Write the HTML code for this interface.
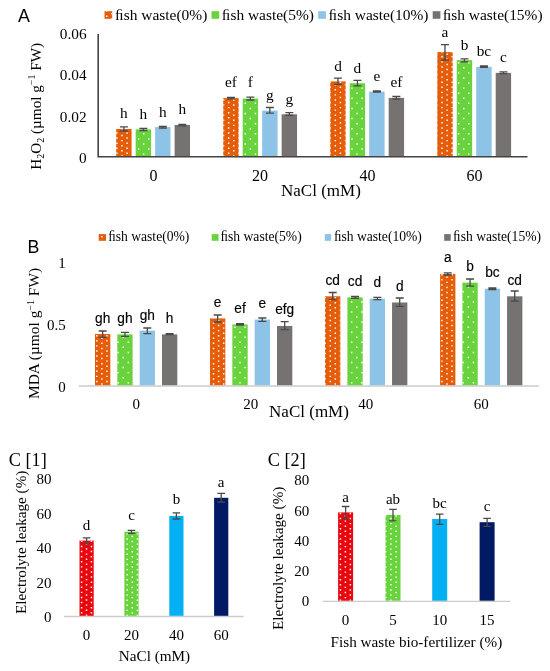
<!DOCTYPE html>
<html><head><meta charset="utf-8"><style>
html,body{margin:0;padding:0;background:#fff;}
svg{display:block;will-change:transform;}
text{fill:#000;}
</style></head><body>
<svg width="550" height="671" viewBox="0 0 550 671">
<defs></defs>
<rect width="550" height="671" fill="#fff"/>
<text x="18" y="21.5" font-family="'Liberation Sans', sans-serif" font-size="17.8" text-anchor="start" >A</text>
<rect x="104.5" y="11.2" width="7.7" height="7.6" fill="#E55C09"/>
<path fill="#FFFFFF" d="M106.02 11.2h1.45v0.6h-1.45zM106.02 15.43h1.45v1.45h-1.45zM111.1 12.89h1.1v1.45h-1.1zM111.1 17.97h1.1v0.83h-1.1z"/>
<text x="115.1" y="19.7" font-family="'Liberation Serif', serif" font-size="15.45" text-anchor="start" >ﬁsh waste(0%)</text>
<rect x="211.5" y="11.2" width="7.7" height="7.6" fill="#69D33E"/>
<text x="221.8" y="19.7" font-family="'Liberation Serif', serif" font-size="15.45" text-anchor="start" >ﬁsh waste(5%)</text>
<rect x="318.2" y="11.2" width="7.7" height="7.6" fill="#8DC3E7"/>
<text x="328.6" y="19.7" font-family="'Liberation Serif', serif" font-size="15.45" text-anchor="start" >ﬁsh waste(10%)</text>
<rect x="432.7" y="11.2" width="7.7" height="7.6" fill="#777272"/>
<text x="442.7" y="19.7" font-family="'Liberation Serif', serif" font-size="15.45" text-anchor="start" >ﬁsh waste(15%)</text>
<path d="M98.2 34V157.5M97.4 156.7H527.5" stroke="#434343" stroke-width="1.6" fill="none"/>
<text x="86.6" y="38.8" font-family="'Liberation Serif', serif" font-size="15.3" text-anchor="end" >0.06</text>
<text x="86.6" y="80.3" font-family="'Liberation Serif', serif" font-size="15.3" text-anchor="end" >0.04</text>
<text x="86.6" y="122" font-family="'Liberation Serif', serif" font-size="15.3" text-anchor="end" >0.02</text>
<text x="86.6" y="163.1" font-family="'Liberation Serif', serif" font-size="15.3" text-anchor="end" >0</text>
<text transform="translate(40.8 106.3) rotate(-90)" font-family="'Liberation Serif', serif" font-size="15.2" text-anchor="middle">H<tspan font-size="10" dy="3">2</tspan><tspan dy="-3">O</tspan><tspan font-size="10" dy="3">2</tspan><tspan dy="-3"> (µmol g</tspan><tspan font-size="10" dy="-5.5">−1</tspan><tspan dy="5.5"> FW)</tspan></text>
<rect x="116.2" y="129" width="15.4" height="27" fill="#E55C09"/>
<path fill="#FFFFFF" d="M116.2 132.28h1.42v1.45h-1.42zM116.2 137.36h1.42v1.45h-1.42zM116.2 142.44h1.42v1.45h-1.42zM116.2 147.52h1.42v1.45h-1.42zM116.2 152.59h1.42v1.45h-1.42zM126.34 132.28h1.45v1.45h-1.45zM126.34 137.36h1.45v1.45h-1.45zM126.34 142.44h1.45v1.45h-1.45zM126.34 147.52h1.45v1.45h-1.45zM126.34 152.59h1.45v1.45h-1.45zM121.26 129.73h1.45v1.45h-1.45zM121.26 134.81h1.45v1.45h-1.45zM121.26 139.9h1.45v1.45h-1.45zM121.26 144.97h1.45v1.45h-1.45zM121.26 150.06h1.45v1.45h-1.45zM121.26 155.13h1.45v0.87h-1.45zM131.42 129.73h0.18v1.45h-0.18zM131.42 134.81h0.18v1.45h-0.18zM131.42 139.9h0.18v1.45h-0.18zM131.42 144.97h0.18v1.45h-0.18zM131.42 150.06h0.18v1.45h-0.18zM131.42 155.13h0.18v0.87h-0.18z"/>
<path d="M119.9 126.9H127.9M123.9 126.9V131M119.9 131H127.9" stroke="#4A4A4A" stroke-width="1.3" fill="none"/>
<text x="123.9" y="118.2" font-family="'Liberation Serif', serif" font-size="15.3" text-anchor="middle" >h</text>
<rect x="135.67" y="129.4" width="15.4" height="26.6" fill="#69D33E"/>
<path fill="#FFFFFF" d="M137.88 138.18h1.45v1.45h-1.45zM137.88 148.34h1.45v1.45h-1.45zM148.03 138.18h1.45v1.45h-1.45zM148.03 148.34h1.45v1.45h-1.45zM142.96 133.1h1.45v1.45h-1.45zM142.96 143.26h1.45v1.45h-1.45zM142.96 153.42h1.45v1.45h-1.45z"/>
<path d="M139.37 128.3H147.37M143.37 128.3V130.5M139.37 130.5H147.37" stroke="#4A4A4A" stroke-width="1.3" fill="none"/>
<text x="143.37" y="118.7" font-family="'Liberation Serif', serif" font-size="15.3" text-anchor="middle" >h</text>
<rect x="155.14" y="127.1" width="15.4" height="28.9" fill="#8DC3E7"/>
<path d="M158.84 126.3H166.84M162.84 126.3V128M158.84 128H166.84" stroke="#4A4A4A" stroke-width="1.3" fill="none"/>
<text x="162.84" y="116.6" font-family="'Liberation Serif', serif" font-size="15.3" text-anchor="middle" >h</text>
<rect x="174.61" y="125" width="15.4" height="31" fill="#777272"/>
<path d="M178.31 124.3H186.31M182.31 124.3V125.8M178.31 125.8H186.31" stroke="#4A4A4A" stroke-width="1.3" fill="none"/>
<text x="182.31" y="114.3" font-family="'Liberation Serif', serif" font-size="15.3" text-anchor="middle" >h</text>
<rect x="223.23" y="98.1" width="15.4" height="57.9" fill="#E55C09"/>
<path fill="#FFFFFF" d="M227.94 101.8h1.45v1.45h-1.45zM227.94 106.88h1.45v1.45h-1.45zM227.94 111.96h1.45v1.45h-1.45zM227.94 117.04h1.45v1.45h-1.45zM227.94 122.12h1.45v1.45h-1.45zM227.94 127.2h1.45v1.45h-1.45zM227.94 132.28h1.45v1.45h-1.45zM227.94 137.36h1.45v1.45h-1.45zM227.94 142.44h1.45v1.45h-1.45zM227.94 147.52h1.45v1.45h-1.45zM227.94 152.59h1.45v1.45h-1.45zM238.09 101.8h0.54v1.45h-0.54zM238.09 106.88h0.54v1.45h-0.54zM238.09 111.96h0.54v1.45h-0.54zM238.09 117.04h0.54v1.45h-0.54zM238.09 122.12h0.54v1.45h-0.54zM238.09 127.2h0.54v1.45h-0.54zM238.09 132.28h0.54v1.45h-0.54zM238.09 137.36h0.54v1.45h-0.54zM238.09 142.44h0.54v1.45h-0.54zM238.09 147.52h0.54v1.45h-0.54zM238.09 152.59h0.54v1.45h-0.54zM223.23 99.25h1.07v1.45h-1.07zM223.23 104.33h1.07v1.45h-1.07zM223.23 109.41h1.07v1.45h-1.07zM223.23 114.5h1.07v1.45h-1.07zM223.23 119.58h1.07v1.45h-1.07zM223.23 124.66h1.07v1.45h-1.07zM223.23 129.73h1.07v1.45h-1.07zM223.23 134.81h1.07v1.45h-1.07zM223.23 139.9h1.07v1.45h-1.07zM223.23 144.97h1.07v1.45h-1.07zM223.23 150.06h1.07v1.45h-1.07zM223.23 155.13h1.07v0.87h-1.07zM233.02 99.25h1.45v1.45h-1.45zM233.02 104.33h1.45v1.45h-1.45zM233.02 109.41h1.45v1.45h-1.45zM233.02 114.5h1.45v1.45h-1.45zM233.02 119.58h1.45v1.45h-1.45zM233.02 124.66h1.45v1.45h-1.45zM233.02 129.73h1.45v1.45h-1.45zM233.02 134.81h1.45v1.45h-1.45zM233.02 139.9h1.45v1.45h-1.45zM233.02 144.97h1.45v1.45h-1.45zM233.02 150.06h1.45v1.45h-1.45zM233.02 155.13h1.45v0.87h-1.45z"/>
<path d="M226.93 97.4H234.93M230.93 97.4V98.8M226.93 98.8H234.93" stroke="#4A4A4A" stroke-width="1.3" fill="none"/>
<text x="230.93" y="87.2" font-family="'Liberation Serif', serif" font-size="15.3" text-anchor="middle" >ef</text>
<rect x="242.7" y="98.6" width="15.4" height="57.4" fill="#69D33E"/>
<path fill="#FFFFFF" d="M249.64 98.6h1.45v0.39h-1.45zM249.64 107.7h1.45v1.45h-1.45zM249.64 117.86h1.45v1.45h-1.45zM249.64 128.02h1.45v1.45h-1.45zM249.64 138.18h1.45v1.45h-1.45zM249.64 148.34h1.45v1.45h-1.45zM244.56 102.62h1.45v1.45h-1.45zM244.56 112.78h1.45v1.45h-1.45zM244.56 122.94h1.45v1.45h-1.45zM244.56 133.1h1.45v1.45h-1.45zM244.56 143.26h1.45v1.45h-1.45zM244.56 153.42h1.45v1.45h-1.45zM254.72 102.62h1.45v1.45h-1.45zM254.72 112.78h1.45v1.45h-1.45zM254.72 122.94h1.45v1.45h-1.45zM254.72 133.1h1.45v1.45h-1.45zM254.72 143.26h1.45v1.45h-1.45zM254.72 153.42h1.45v1.45h-1.45z"/>
<path d="M246.4 97.2H254.4M250.4 97.2V100M246.4 100H254.4" stroke="#4A4A4A" stroke-width="1.3" fill="none"/>
<text x="250.4" y="87.3" font-family="'Liberation Serif', serif" font-size="15.3" text-anchor="middle" >f</text>
<rect x="262.17" y="110.6" width="15.4" height="45.4" fill="#8DC3E7"/>
<path d="M265.87 107.5H273.87M269.87 107.5V113.2M265.87 113.2H273.87" stroke="#4A4A4A" stroke-width="1.3" fill="none"/>
<text x="269.87" y="100.1" font-family="'Liberation Serif', serif" font-size="15.3" text-anchor="middle" >g</text>
<rect x="281.64" y="114.3" width="15.4" height="41.7" fill="#777272"/>
<path d="M285.34 112.7H293.34M289.34 112.7V115.3M285.34 115.3H293.34" stroke="#4A4A4A" stroke-width="1.3" fill="none"/>
<text x="289.34" y="103.8" font-family="'Liberation Serif', serif" font-size="15.3" text-anchor="middle" >g</text>
<rect x="330.26" y="81.4" width="15.4" height="74.6" fill="#E55C09"/>
<path fill="#FFFFFF" d="M330.26 81.48h0.73v1.45h-0.73zM330.26 86.56h0.73v1.45h-0.73zM330.26 91.64h0.73v1.45h-0.73zM330.26 96.72h0.73v1.45h-0.73zM330.26 101.8h0.73v1.45h-0.73zM330.26 106.88h0.73v1.45h-0.73zM330.26 111.96h0.73v1.45h-0.73zM330.26 117.04h0.73v1.45h-0.73zM330.26 122.12h0.73v1.45h-0.73zM330.26 127.2h0.73v1.45h-0.73zM330.26 132.28h0.73v1.45h-0.73zM330.26 137.36h0.73v1.45h-0.73zM330.26 142.44h0.73v1.45h-0.73zM330.26 147.52h0.73v1.45h-0.73zM330.26 152.59h0.73v1.45h-0.73zM339.69 81.48h1.45v1.45h-1.45zM339.69 86.56h1.45v1.45h-1.45zM339.69 91.64h1.45v1.45h-1.45zM339.69 96.72h1.45v1.45h-1.45zM339.69 101.8h1.45v1.45h-1.45zM339.69 106.88h1.45v1.45h-1.45zM339.69 111.96h1.45v1.45h-1.45zM339.69 117.04h1.45v1.45h-1.45zM339.69 122.12h1.45v1.45h-1.45zM339.69 127.2h1.45v1.45h-1.45zM339.69 132.28h1.45v1.45h-1.45zM339.69 137.36h1.45v1.45h-1.45zM339.69 142.44h1.45v1.45h-1.45zM339.69 147.52h1.45v1.45h-1.45zM339.69 152.59h1.45v1.45h-1.45zM334.62 84.02h1.45v1.45h-1.45zM334.62 89.09h1.45v1.45h-1.45zM334.62 94.17h1.45v1.45h-1.45zM334.62 99.25h1.45v1.45h-1.45zM334.62 104.33h1.45v1.45h-1.45zM334.62 109.41h1.45v1.45h-1.45zM334.62 114.5h1.45v1.45h-1.45zM334.62 119.58h1.45v1.45h-1.45zM334.62 124.66h1.45v1.45h-1.45zM334.62 129.73h1.45v1.45h-1.45zM334.62 134.81h1.45v1.45h-1.45zM334.62 139.9h1.45v1.45h-1.45zM334.62 144.97h1.45v1.45h-1.45zM334.62 150.06h1.45v1.45h-1.45zM334.62 155.13h1.45v0.87h-1.45zM344.77 84.02h0.88v1.45h-0.88zM344.77 89.09h0.88v1.45h-0.88zM344.77 94.17h0.88v1.45h-0.88zM344.77 99.25h0.88v1.45h-0.88zM344.77 104.33h0.88v1.45h-0.88zM344.77 109.41h0.88v1.45h-0.88zM344.77 114.5h0.88v1.45h-0.88zM344.77 119.58h0.88v1.45h-0.88zM344.77 124.66h0.88v1.45h-0.88zM344.77 129.73h0.88v1.45h-0.88zM344.77 134.81h0.88v1.45h-0.88zM344.77 139.9h0.88v1.45h-0.88zM344.77 144.97h0.88v1.45h-0.88zM344.77 150.06h0.88v1.45h-0.88zM344.77 155.13h0.88v0.87h-0.88z"/>
<path d="M333.96 78.2H341.96M337.96 78.2V84.3M333.96 84.3H341.96" stroke="#4A4A4A" stroke-width="1.3" fill="none"/>
<text x="337.96" y="70.5" font-family="'Liberation Serif', serif" font-size="15.3" text-anchor="middle" >d</text>
<rect x="349.73" y="83.2" width="15.4" height="72.8" fill="#69D33E"/>
<path fill="#FFFFFF" d="M351.24 87.38h1.45v1.45h-1.45zM351.24 97.54h1.45v1.45h-1.45zM351.24 107.7h1.45v1.45h-1.45zM351.24 117.86h1.45v1.45h-1.45zM351.24 128.02h1.45v1.45h-1.45zM351.24 138.18h1.45v1.45h-1.45zM351.24 148.34h1.45v1.45h-1.45zM361.39 87.38h1.45v1.45h-1.45zM361.39 97.54h1.45v1.45h-1.45zM361.39 107.7h1.45v1.45h-1.45zM361.39 117.86h1.45v1.45h-1.45zM361.39 128.02h1.45v1.45h-1.45zM361.39 138.18h1.45v1.45h-1.45zM361.39 148.34h1.45v1.45h-1.45zM356.31 83.2h1.45v0.55h-1.45zM356.31 92.46h1.45v1.45h-1.45zM356.31 102.62h1.45v1.45h-1.45zM356.31 112.78h1.45v1.45h-1.45zM356.31 122.94h1.45v1.45h-1.45zM356.31 133.1h1.45v1.45h-1.45zM356.31 143.26h1.45v1.45h-1.45zM356.31 153.42h1.45v1.45h-1.45z"/>
<path d="M353.43 80.4H361.43M357.43 80.4V85.8M353.43 85.8H361.43" stroke="#4A4A4A" stroke-width="1.3" fill="none"/>
<text x="357.43" y="72.5" font-family="'Liberation Serif', serif" font-size="15.3" text-anchor="middle" >d</text>
<rect x="369.2" y="91.6" width="15.4" height="64.4" fill="#8DC3E7"/>
<path d="M372.9 90.9H380.9M376.9 90.9V92.2M372.9 92.2H380.9" stroke="#4A4A4A" stroke-width="1.3" fill="none"/>
<text x="376.9" y="80.8" font-family="'Liberation Serif', serif" font-size="15.3" text-anchor="middle" >e</text>
<rect x="388.67" y="97.9" width="15.4" height="58.1" fill="#777272"/>
<path d="M392.37 96.5H400.37M396.37 96.5V99.2M392.37 99.2H400.37" stroke="#4A4A4A" stroke-width="1.3" fill="none"/>
<text x="396.37" y="87.1" font-family="'Liberation Serif', serif" font-size="15.3" text-anchor="middle" >ef</text>
<rect x="437.29" y="52.1" width="15.4" height="103.9" fill="#E55C09"/>
<path fill="#FFFFFF" d="M441.29 52.1h1.45v0.34h-1.45zM441.29 56.07h1.45v1.45h-1.45zM441.29 61.15h1.45v1.45h-1.45zM441.29 66.23h1.45v1.45h-1.45zM441.29 71.31h1.45v1.45h-1.45zM441.29 76.4h1.45v1.45h-1.45zM441.29 81.48h1.45v1.45h-1.45zM441.29 86.56h1.45v1.45h-1.45zM441.29 91.64h1.45v1.45h-1.45zM441.29 96.72h1.45v1.45h-1.45zM441.29 101.8h1.45v1.45h-1.45zM441.29 106.88h1.45v1.45h-1.45zM441.29 111.96h1.45v1.45h-1.45zM441.29 117.04h1.45v1.45h-1.45zM441.29 122.12h1.45v1.45h-1.45zM441.29 127.2h1.45v1.45h-1.45zM441.29 132.28h1.45v1.45h-1.45zM441.29 137.36h1.45v1.45h-1.45zM441.29 142.44h1.45v1.45h-1.45zM441.29 147.52h1.45v1.45h-1.45zM441.29 152.59h1.45v1.45h-1.45zM451.46 52.1h1.23v0.34h-1.23zM451.46 56.07h1.23v1.45h-1.23zM451.46 61.15h1.23v1.45h-1.23zM451.46 66.23h1.23v1.45h-1.23zM451.46 71.31h1.23v1.45h-1.23zM451.46 76.4h1.23v1.45h-1.23zM451.46 81.48h1.23v1.45h-1.23zM451.46 86.56h1.23v1.45h-1.23zM451.46 91.64h1.23v1.45h-1.23zM451.46 96.72h1.23v1.45h-1.23zM451.46 101.8h1.23v1.45h-1.23zM451.46 106.88h1.23v1.45h-1.23zM451.46 111.96h1.23v1.45h-1.23zM451.46 117.04h1.23v1.45h-1.23zM451.46 122.12h1.23v1.45h-1.23zM451.46 127.2h1.23v1.45h-1.23zM451.46 132.28h1.23v1.45h-1.23zM451.46 137.36h1.23v1.45h-1.23zM451.46 142.44h1.23v1.45h-1.23zM451.46 147.52h1.23v1.45h-1.23zM451.46 152.59h1.23v1.45h-1.23zM437.29 53.53h0.38v1.45h-0.38zM437.29 58.61h0.38v1.45h-0.38zM437.29 63.69h0.38v1.45h-0.38zM437.29 68.77h0.38v1.45h-0.38zM437.29 73.85h0.38v1.45h-0.38zM437.29 78.94h0.38v1.45h-0.38zM437.29 84.02h0.38v1.45h-0.38zM437.29 89.09h0.38v1.45h-0.38zM437.29 94.17h0.38v1.45h-0.38zM437.29 99.25h0.38v1.45h-0.38zM437.29 104.33h0.38v1.45h-0.38zM437.29 109.41h0.38v1.45h-0.38zM437.29 114.5h0.38v1.45h-0.38zM437.29 119.58h0.38v1.45h-0.38zM437.29 124.66h0.38v1.45h-0.38zM437.29 129.73h0.38v1.45h-0.38zM437.29 134.81h0.38v1.45h-0.38zM437.29 139.9h0.38v1.45h-0.38zM437.29 144.97h0.38v1.45h-0.38zM437.29 150.06h0.38v1.45h-0.38zM437.29 155.13h0.38v0.87h-0.38zM446.38 53.53h1.45v1.45h-1.45zM446.38 58.61h1.45v1.45h-1.45zM446.38 63.69h1.45v1.45h-1.45zM446.38 68.77h1.45v1.45h-1.45zM446.38 73.85h1.45v1.45h-1.45zM446.38 78.94h1.45v1.45h-1.45zM446.38 84.02h1.45v1.45h-1.45zM446.38 89.09h1.45v1.45h-1.45zM446.38 94.17h1.45v1.45h-1.45zM446.38 99.25h1.45v1.45h-1.45zM446.38 104.33h1.45v1.45h-1.45zM446.38 109.41h1.45v1.45h-1.45zM446.38 114.5h1.45v1.45h-1.45zM446.38 119.58h1.45v1.45h-1.45zM446.38 124.66h1.45v1.45h-1.45zM446.38 129.73h1.45v1.45h-1.45zM446.38 134.81h1.45v1.45h-1.45zM446.38 139.9h1.45v1.45h-1.45zM446.38 144.97h1.45v1.45h-1.45zM446.38 150.06h1.45v1.45h-1.45zM446.38 155.13h1.45v0.87h-1.45z"/>
<path d="M440.99 44.7H448.99M444.99 44.7V60M440.99 60H448.99" stroke="#4A4A4A" stroke-width="1.3" fill="none"/>
<text x="444.99" y="36.7" font-family="'Liberation Serif', serif" font-size="15.3" text-anchor="middle" >a</text>
<rect x="456.76" y="60.2" width="15.4" height="95.8" fill="#69D33E"/>
<path fill="#FFFFFF" d="M463 67.06h1.45v1.45h-1.45zM463 77.22h1.45v1.45h-1.45zM463 87.38h1.45v1.45h-1.45zM463 97.54h1.45v1.45h-1.45zM463 107.7h1.45v1.45h-1.45zM463 117.86h1.45v1.45h-1.45zM463 128.02h1.45v1.45h-1.45zM463 138.18h1.45v1.45h-1.45zM463 148.34h1.45v1.45h-1.45zM457.91 61.98h1.45v1.45h-1.45zM457.91 72.14h1.45v1.45h-1.45zM457.91 82.3h1.45v1.45h-1.45zM457.91 92.46h1.45v1.45h-1.45zM457.91 102.62h1.45v1.45h-1.45zM457.91 112.78h1.45v1.45h-1.45zM457.91 122.94h1.45v1.45h-1.45zM457.91 133.1h1.45v1.45h-1.45zM457.91 143.26h1.45v1.45h-1.45zM457.91 153.42h1.45v1.45h-1.45zM468.07 61.98h1.45v1.45h-1.45zM468.07 72.14h1.45v1.45h-1.45zM468.07 82.3h1.45v1.45h-1.45zM468.07 92.46h1.45v1.45h-1.45zM468.07 102.62h1.45v1.45h-1.45zM468.07 112.78h1.45v1.45h-1.45zM468.07 122.94h1.45v1.45h-1.45zM468.07 133.1h1.45v1.45h-1.45zM468.07 143.26h1.45v1.45h-1.45zM468.07 153.42h1.45v1.45h-1.45z"/>
<path d="M460.46 58.8H468.46M464.46 58.8V61.9M460.46 61.9H468.46" stroke="#4A4A4A" stroke-width="1.3" fill="none"/>
<text x="464.46" y="49.6" font-family="'Liberation Serif', serif" font-size="15.3" text-anchor="middle" >b</text>
<rect x="476.23" y="66.8" width="15.4" height="89.2" fill="#8DC3E7"/>
<path d="M479.93 66H487.93M483.93 66V67.4M479.93 67.4H487.93" stroke="#4A4A4A" stroke-width="1.3" fill="none"/>
<text x="483.93" y="55.5" font-family="'Liberation Serif', serif" font-size="15.3" text-anchor="middle" >bc</text>
<rect x="495.7" y="72.85" width="15.4" height="83.15" fill="#777272"/>
<path d="M499.4 71.8H507.4M503.4 71.8V73.7M499.4 73.7H507.4" stroke="#4A4A4A" stroke-width="1.3" fill="none"/>
<text x="503.4" y="62.2" font-family="'Liberation Serif', serif" font-size="15.3" text-anchor="middle" >c</text>
<text x="153.5" y="181.4" font-family="'Liberation Serif', serif" font-size="16" text-anchor="middle" >0</text>
<text x="260" y="181.4" font-family="'Liberation Serif', serif" font-size="16" text-anchor="middle" >20</text>
<text x="367.4" y="181.4" font-family="'Liberation Serif', serif" font-size="16" text-anchor="middle" >40</text>
<text x="474.5" y="181.4" font-family="'Liberation Serif', serif" font-size="16" text-anchor="middle" >60</text>
<text x="320.9" y="195.6" font-family="'Liberation Serif', serif" font-size="17" text-anchor="middle" >NaCl (mM)</text>
<text x="27.5" y="252.7" font-family="'Liberation Sans', sans-serif" font-size="17.8" text-anchor="start" >B</text>
<rect x="98.7" y="234.1" width="7.3" height="6.7" fill="#E55C09"/>
<path fill="#FFFFFF" d="M101.15 235.94h1.45v1.45h-1.45z"/>
<text x="108.2" y="241.1" font-family="'Liberation Serif', serif" font-size="13.6" text-anchor="start" >ﬁsh waste(0%)</text>
<rect x="211.7" y="234.1" width="6.8" height="6.7" fill="#69D33E"/>
<text x="220.5" y="241.1" font-family="'Liberation Serif', serif" font-size="13.6" text-anchor="start" >ﬁsh waste(5%)</text>
<rect x="324.8" y="234.1" width="6.3" height="6.7" fill="#8DC3E7"/>
<text x="333.9" y="241.1" font-family="'Liberation Serif', serif" font-size="13.6" text-anchor="start" >ﬁsh waste(10%)</text>
<rect x="444.2" y="234.1" width="6.5" height="6.7" fill="#777272"/>
<text x="453.1" y="241.1" font-family="'Liberation Serif', serif" font-size="13.6" text-anchor="start" >ﬁsh waste(15%)</text>
<text x="65.8" y="267.9" font-family="'Liberation Serif', serif" font-size="15" text-anchor="end" >1</text>
<text x="65.8" y="329.9" font-family="'Liberation Serif', serif" font-size="15" text-anchor="end" >0.5</text>
<text x="65.8" y="392" font-family="'Liberation Serif', serif" font-size="15" text-anchor="end" >0</text>
<text transform="translate(39.4 333.5) rotate(-90)" font-family="'Liberation Serif', serif" font-size="15.4" text-anchor="middle">MDA (µmol g<tspan font-size="10" dy="-5.5">−1</tspan><tspan dy="5.5"> FW)</tspan></text>
<path d="M78.8 386H539" stroke="#CBCBCB" stroke-width="1.5" fill="none"/>
<rect x="95" y="334" width="15.3" height="51.2" fill="#E55C09"/>
<path fill="#FFFFFF" d="M96.08 335h1.45v1.45h-1.45zM96.08 340.07h1.45v1.45h-1.45zM96.08 345.15h1.45v1.45h-1.45zM96.08 350.24h1.45v1.45h-1.45zM96.08 355.31h1.45v1.45h-1.45zM96.08 360.39h1.45v1.45h-1.45zM96.08 365.47h1.45v1.45h-1.45zM96.08 370.56h1.45v1.45h-1.45zM96.08 375.63h1.45v1.45h-1.45zM96.08 380.71h1.45v1.45h-1.45zM106.23 335h1.45v1.45h-1.45zM106.23 340.07h1.45v1.45h-1.45zM106.23 345.15h1.45v1.45h-1.45zM106.23 350.24h1.45v1.45h-1.45zM106.23 355.31h1.45v1.45h-1.45zM106.23 360.39h1.45v1.45h-1.45zM106.23 365.47h1.45v1.45h-1.45zM106.23 370.56h1.45v1.45h-1.45zM106.23 375.63h1.45v1.45h-1.45zM106.23 380.71h1.45v1.45h-1.45zM101.15 337.54h1.45v1.45h-1.45zM101.15 342.62h1.45v1.45h-1.45zM101.15 347.69h1.45v1.45h-1.45zM101.15 352.78h1.45v1.45h-1.45zM101.15 357.86h1.45v1.45h-1.45zM101.15 362.94h1.45v1.45h-1.45zM101.15 368.01h1.45v1.45h-1.45zM101.15 373.1h1.45v1.45h-1.45zM101.15 378.18h1.45v1.45h-1.45zM101.15 383.25h1.45v1.45h-1.45z"/>
<path d="M98.65 331H106.65M102.65 331V337.4M98.65 337.4H106.65" stroke="#4A4A4A" stroke-width="1.3" fill="none"/>
<text transform="translate(102.65 322.5) scale(0.94 1)" font-family="'Liberation Sans', sans-serif" font-size="14.6" text-anchor="middle" stroke="#000" stroke-width="0.15">gh</text>
<rect x="117.33" y="334.4" width="15.3" height="50.8" fill="#69D33E"/>
<path fill="#FFFFFF" d="M117.48 341.57h1.45v1.45h-1.45zM117.48 351.68h1.45v1.45h-1.45zM117.48 361.77h1.45v1.45h-1.45zM117.48 371.88h1.45v1.45h-1.45zM117.48 381.97h1.45v1.45h-1.45zM127.62 341.57h1.45v1.45h-1.45zM127.62 351.68h1.45v1.45h-1.45zM127.62 361.77h1.45v1.45h-1.45zM127.62 371.88h1.45v1.45h-1.45zM127.62 381.97h1.45v1.45h-1.45zM122.55 336.52h1.45v1.45h-1.45zM122.55 346.62h1.45v1.45h-1.45zM122.55 356.73h1.45v1.45h-1.45zM122.55 366.82h1.45v1.45h-1.45zM122.55 376.93h1.45v1.45h-1.45z"/>
<path d="M120.98 332.4H128.98M124.98 332.4V336.4M120.98 336.4H128.98" stroke="#4A4A4A" stroke-width="1.3" fill="none"/>
<text transform="translate(124.98 323) scale(0.94 1)" font-family="'Liberation Sans', sans-serif" font-size="14.6" text-anchor="middle" stroke="#000" stroke-width="0.15">gh</text>
<rect x="139.66" y="330.6" width="15.3" height="54.6" fill="#8DC3E7"/>
<path d="M143.31 328H151.31M147.31 328V333.6M143.31 333.6H151.31" stroke="#4A4A4A" stroke-width="1.3" fill="none"/>
<text transform="translate(147.31 319.6) scale(0.94 1)" font-family="'Liberation Sans', sans-serif" font-size="14.6" text-anchor="middle" stroke="#000" stroke-width="0.15">gh</text>
<rect x="161.99" y="334.4" width="15.3" height="50.8" fill="#777272"/>
<path d="M165.64 333.6H173.64M169.64 333.6V334.6M165.64 334.6H173.64" stroke="#4A4A4A" stroke-width="1.3" fill="none"/>
<text transform="translate(169.64 322.6) scale(0.94 1)" font-family="'Liberation Sans', sans-serif" font-size="14.6" text-anchor="middle" stroke="#000" stroke-width="0.15">h</text>
<rect x="210.03" y="318.4" width="15.3" height="66.8" fill="#E55C09"/>
<path fill="#FFFFFF" d="M217.88 319.75h1.45v1.45h-1.45zM217.88 324.83h1.45v1.45h-1.45zM217.88 329.91h1.45v1.45h-1.45zM217.88 335h1.45v1.45h-1.45zM217.88 340.07h1.45v1.45h-1.45zM217.88 345.15h1.45v1.45h-1.45zM217.88 350.24h1.45v1.45h-1.45zM217.88 355.31h1.45v1.45h-1.45zM217.88 360.39h1.45v1.45h-1.45zM217.88 365.47h1.45v1.45h-1.45zM217.88 370.56h1.45v1.45h-1.45zM217.88 375.63h1.45v1.45h-1.45zM217.88 380.71h1.45v1.45h-1.45zM212.8 318.4h1.45v0.27h-1.45zM212.8 322.3h1.45v1.45h-1.45zM212.8 327.38h1.45v1.45h-1.45zM212.8 332.45h1.45v1.45h-1.45zM212.8 337.54h1.45v1.45h-1.45zM212.8 342.62h1.45v1.45h-1.45zM212.8 347.69h1.45v1.45h-1.45zM212.8 352.78h1.45v1.45h-1.45zM212.8 357.86h1.45v1.45h-1.45zM212.8 362.94h1.45v1.45h-1.45zM212.8 368.01h1.45v1.45h-1.45zM212.8 373.1h1.45v1.45h-1.45zM212.8 378.18h1.45v1.45h-1.45zM212.8 383.25h1.45v1.45h-1.45zM222.95 318.4h1.45v0.27h-1.45zM222.95 322.3h1.45v1.45h-1.45zM222.95 327.38h1.45v1.45h-1.45zM222.95 332.45h1.45v1.45h-1.45zM222.95 337.54h1.45v1.45h-1.45zM222.95 342.62h1.45v1.45h-1.45zM222.95 347.69h1.45v1.45h-1.45zM222.95 352.78h1.45v1.45h-1.45zM222.95 357.86h1.45v1.45h-1.45zM222.95 362.94h1.45v1.45h-1.45zM222.95 368.01h1.45v1.45h-1.45zM222.95 373.1h1.45v1.45h-1.45zM222.95 378.18h1.45v1.45h-1.45zM222.95 383.25h1.45v1.45h-1.45z"/>
<path d="M213.68 315H221.68M217.68 315V322M213.68 322H221.68" stroke="#4A4A4A" stroke-width="1.3" fill="none"/>
<text transform="translate(217.68 307) scale(0.94 1)" font-family="'Liberation Sans', sans-serif" font-size="14.6" text-anchor="middle" stroke="#000" stroke-width="0.15">e</text>
<rect x="232.36" y="324.4" width="15.3" height="60.8" fill="#69D33E"/>
<path fill="#FFFFFF" d="M239.28 331.47h1.45v1.45h-1.45zM239.28 341.57h1.45v1.45h-1.45zM239.28 351.68h1.45v1.45h-1.45zM239.28 361.77h1.45v1.45h-1.45zM239.28 371.88h1.45v1.45h-1.45zM239.28 381.97h1.45v1.45h-1.45zM234.2 326.43h1.45v1.45h-1.45zM234.2 336.52h1.45v1.45h-1.45zM234.2 346.62h1.45v1.45h-1.45zM234.2 356.73h1.45v1.45h-1.45zM234.2 366.82h1.45v1.45h-1.45zM234.2 376.93h1.45v1.45h-1.45zM244.35 326.43h1.45v1.45h-1.45zM244.35 336.52h1.45v1.45h-1.45zM244.35 346.62h1.45v1.45h-1.45zM244.35 356.73h1.45v1.45h-1.45zM244.35 366.82h1.45v1.45h-1.45zM244.35 376.93h1.45v1.45h-1.45z"/>
<path d="M236.01 323.6H244.01M240.01 323.6V325M236.01 325H244.01" stroke="#4A4A4A" stroke-width="1.3" fill="none"/>
<text transform="translate(240.01 313) scale(0.94 1)" font-family="'Liberation Sans', sans-serif" font-size="14.6" text-anchor="middle" stroke="#000" stroke-width="0.15">ef</text>
<rect x="254.69" y="319.6" width="15.3" height="65.6" fill="#8DC3E7"/>
<path d="M258.34 318H266.34M262.34 318V321.4M258.34 321.4H266.34" stroke="#4A4A4A" stroke-width="1.3" fill="none"/>
<text transform="translate(262.34 308) scale(0.94 1)" font-family="'Liberation Sans', sans-serif" font-size="14.6" text-anchor="middle" stroke="#000" stroke-width="0.15">e</text>
<rect x="277.02" y="326" width="15.3" height="59.2" fill="#777272"/>
<path d="M280.67 321.6H288.67M284.67 321.6V329.6M280.67 329.6H288.67" stroke="#4A4A4A" stroke-width="1.3" fill="none"/>
<text transform="translate(284.67 313.6) scale(0.94 1)" font-family="'Liberation Sans', sans-serif" font-size="14.6" text-anchor="middle" stroke="#000" stroke-width="0.15">efg</text>
<rect x="325.06" y="296.3" width="15.3" height="88.9" fill="#E55C09"/>
<path fill="#FFFFFF" d="M329.52 299.44h1.45v1.45h-1.45zM329.52 304.51h1.45v1.45h-1.45zM329.52 309.59h1.45v1.45h-1.45zM329.52 314.68h1.45v1.45h-1.45zM329.52 319.75h1.45v1.45h-1.45zM329.52 324.83h1.45v1.45h-1.45zM329.52 329.91h1.45v1.45h-1.45zM329.52 335h1.45v1.45h-1.45zM329.52 340.07h1.45v1.45h-1.45zM329.52 345.15h1.45v1.45h-1.45zM329.52 350.24h1.45v1.45h-1.45zM329.52 355.31h1.45v1.45h-1.45zM329.52 360.39h1.45v1.45h-1.45zM329.52 365.47h1.45v1.45h-1.45zM329.52 370.56h1.45v1.45h-1.45zM329.52 375.63h1.45v1.45h-1.45zM329.52 380.71h1.45v1.45h-1.45zM339.68 299.44h0.69v1.45h-0.69zM339.68 304.51h0.69v1.45h-0.69zM339.68 309.59h0.69v1.45h-0.69zM339.68 314.68h0.69v1.45h-0.69zM339.68 319.75h0.69v1.45h-0.69zM339.68 324.83h0.69v1.45h-0.69zM339.68 329.91h0.69v1.45h-0.69zM339.68 335h0.69v1.45h-0.69zM339.68 340.07h0.69v1.45h-0.69zM339.68 345.15h0.69v1.45h-0.69zM339.68 350.24h0.69v1.45h-0.69zM339.68 355.31h0.69v1.45h-0.69zM339.68 360.39h0.69v1.45h-0.69zM339.68 365.47h0.69v1.45h-0.69zM339.68 370.56h0.69v1.45h-0.69zM339.68 375.63h0.69v1.45h-0.69zM339.68 380.71h0.69v1.45h-0.69zM325.06 296.89h0.84v1.45h-0.84zM325.06 301.98h0.84v1.45h-0.84zM325.06 307.06h0.84v1.45h-0.84zM325.06 312.13h0.84v1.45h-0.84zM325.06 317.22h0.84v1.45h-0.84zM325.06 322.3h0.84v1.45h-0.84zM325.06 327.38h0.84v1.45h-0.84zM325.06 332.45h0.84v1.45h-0.84zM325.06 337.54h0.84v1.45h-0.84zM325.06 342.62h0.84v1.45h-0.84zM325.06 347.69h0.84v1.45h-0.84zM325.06 352.78h0.84v1.45h-0.84zM325.06 357.86h0.84v1.45h-0.84zM325.06 362.94h0.84v1.45h-0.84zM325.06 368.01h0.84v1.45h-0.84zM325.06 373.1h0.84v1.45h-0.84zM325.06 378.18h0.84v1.45h-0.84zM325.06 383.25h0.84v1.45h-0.84zM334.6 296.89h1.45v1.45h-1.45zM334.6 301.98h1.45v1.45h-1.45zM334.6 307.06h1.45v1.45h-1.45zM334.6 312.13h1.45v1.45h-1.45zM334.6 317.22h1.45v1.45h-1.45zM334.6 322.3h1.45v1.45h-1.45zM334.6 327.38h1.45v1.45h-1.45zM334.6 332.45h1.45v1.45h-1.45zM334.6 337.54h1.45v1.45h-1.45zM334.6 342.62h1.45v1.45h-1.45zM334.6 347.69h1.45v1.45h-1.45zM334.6 352.78h1.45v1.45h-1.45zM334.6 357.86h1.45v1.45h-1.45zM334.6 362.94h1.45v1.45h-1.45zM334.6 368.01h1.45v1.45h-1.45zM334.6 373.1h1.45v1.45h-1.45zM334.6 378.18h1.45v1.45h-1.45zM334.6 383.25h1.45v1.45h-1.45z"/>
<path d="M328.71 292.5H336.71M332.71 292.5V299.6M328.71 299.6H336.71" stroke="#4A4A4A" stroke-width="1.3" fill="none"/>
<text transform="translate(332.71 285.1) scale(0.94 1)" font-family="'Liberation Sans', sans-serif" font-size="14.6" text-anchor="middle" stroke="#000" stroke-width="0.15">cd</text>
<rect x="347.39" y="297.4" width="15.3" height="87.8" fill="#69D33E"/>
<path fill="#FFFFFF" d="M350.93 301.18h1.45v1.45h-1.45zM350.93 311.27h1.45v1.45h-1.45zM350.93 321.38h1.45v1.45h-1.45zM350.93 331.47h1.45v1.45h-1.45zM350.93 341.57h1.45v1.45h-1.45zM350.93 351.68h1.45v1.45h-1.45zM350.93 361.77h1.45v1.45h-1.45zM350.93 371.88h1.45v1.45h-1.45zM350.93 381.97h1.45v1.45h-1.45zM361.07 301.18h1.45v1.45h-1.45zM361.07 311.27h1.45v1.45h-1.45zM361.07 321.38h1.45v1.45h-1.45zM361.07 331.47h1.45v1.45h-1.45zM361.07 341.57h1.45v1.45h-1.45zM361.07 351.68h1.45v1.45h-1.45zM361.07 361.77h1.45v1.45h-1.45zM361.07 371.88h1.45v1.45h-1.45zM361.07 381.97h1.45v1.45h-1.45zM356 297.4h1.45v0.18h-1.45zM356 306.23h1.45v1.45h-1.45zM356 316.32h1.45v1.45h-1.45zM356 326.43h1.45v1.45h-1.45zM356 336.52h1.45v1.45h-1.45zM356 346.62h1.45v1.45h-1.45zM356 356.73h1.45v1.45h-1.45zM356 366.82h1.45v1.45h-1.45zM356 376.93h1.45v1.45h-1.45z"/>
<path d="M351.04 296.5H359.04M355.04 296.5V298.3M351.04 298.3H359.04" stroke="#4A4A4A" stroke-width="1.3" fill="none"/>
<text transform="translate(355.04 285.8) scale(0.94 1)" font-family="'Liberation Sans', sans-serif" font-size="14.6" text-anchor="middle" stroke="#000" stroke-width="0.15">cd</text>
<rect x="369.72" y="298.7" width="15.3" height="86.5" fill="#8DC3E7"/>
<path d="M373.37 297.4H381.37M377.37 297.4V299.6M373.37 299.6H381.37" stroke="#4A4A4A" stroke-width="1.3" fill="none"/>
<text transform="translate(377.37 286.9) scale(0.94 1)" font-family="'Liberation Sans', sans-serif" font-size="14.6" text-anchor="middle" stroke="#000" stroke-width="0.15">d</text>
<rect x="392.05" y="302.5" width="15.3" height="82.7" fill="#777272"/>
<path d="M395.7 298H403.7M399.7 298V306.3M395.7 306.3H403.7" stroke="#4A4A4A" stroke-width="1.3" fill="none"/>
<text transform="translate(399.7 291) scale(0.94 1)" font-family="'Liberation Sans', sans-serif" font-size="14.6" text-anchor="middle" stroke="#000" stroke-width="0.15">d</text>
<rect x="440.09" y="273.9" width="15.3" height="111.3" fill="#E55C09"/>
<path fill="#FFFFFF" d="M441.18 274.03h1.45v1.45h-1.45zM441.18 279.12h1.45v1.45h-1.45zM441.18 284.19h1.45v1.45h-1.45zM441.18 289.27h1.45v1.45h-1.45zM441.18 294.36h1.45v1.45h-1.45zM441.18 299.44h1.45v1.45h-1.45zM441.18 304.51h1.45v1.45h-1.45zM441.18 309.59h1.45v1.45h-1.45zM441.18 314.68h1.45v1.45h-1.45zM441.18 319.75h1.45v1.45h-1.45zM441.18 324.83h1.45v1.45h-1.45zM441.18 329.91h1.45v1.45h-1.45zM441.18 335h1.45v1.45h-1.45zM441.18 340.07h1.45v1.45h-1.45zM441.18 345.15h1.45v1.45h-1.45zM441.18 350.24h1.45v1.45h-1.45zM441.18 355.31h1.45v1.45h-1.45zM441.18 360.39h1.45v1.45h-1.45zM441.18 365.47h1.45v1.45h-1.45zM441.18 370.56h1.45v1.45h-1.45zM441.18 375.63h1.45v1.45h-1.45zM441.18 380.71h1.45v1.45h-1.45zM451.32 274.03h1.45v1.45h-1.45zM451.32 279.12h1.45v1.45h-1.45zM451.32 284.19h1.45v1.45h-1.45zM451.32 289.27h1.45v1.45h-1.45zM451.32 294.36h1.45v1.45h-1.45zM451.32 299.44h1.45v1.45h-1.45zM451.32 304.51h1.45v1.45h-1.45zM451.32 309.59h1.45v1.45h-1.45zM451.32 314.68h1.45v1.45h-1.45zM451.32 319.75h1.45v1.45h-1.45zM451.32 324.83h1.45v1.45h-1.45zM451.32 329.91h1.45v1.45h-1.45zM451.32 335h1.45v1.45h-1.45zM451.32 340.07h1.45v1.45h-1.45zM451.32 345.15h1.45v1.45h-1.45zM451.32 350.24h1.45v1.45h-1.45zM451.32 355.31h1.45v1.45h-1.45zM451.32 360.39h1.45v1.45h-1.45zM451.32 365.47h1.45v1.45h-1.45zM451.32 370.56h1.45v1.45h-1.45zM451.32 375.63h1.45v1.45h-1.45zM451.32 380.71h1.45v1.45h-1.45zM446.25 276.57h1.45v1.45h-1.45zM446.25 281.66h1.45v1.45h-1.45zM446.25 286.74h1.45v1.45h-1.45zM446.25 291.81h1.45v1.45h-1.45zM446.25 296.89h1.45v1.45h-1.45zM446.25 301.98h1.45v1.45h-1.45zM446.25 307.06h1.45v1.45h-1.45zM446.25 312.13h1.45v1.45h-1.45zM446.25 317.22h1.45v1.45h-1.45zM446.25 322.3h1.45v1.45h-1.45zM446.25 327.38h1.45v1.45h-1.45zM446.25 332.45h1.45v1.45h-1.45zM446.25 337.54h1.45v1.45h-1.45zM446.25 342.62h1.45v1.45h-1.45zM446.25 347.69h1.45v1.45h-1.45zM446.25 352.78h1.45v1.45h-1.45zM446.25 357.86h1.45v1.45h-1.45zM446.25 362.94h1.45v1.45h-1.45zM446.25 368.01h1.45v1.45h-1.45zM446.25 373.1h1.45v1.45h-1.45zM446.25 378.18h1.45v1.45h-1.45zM446.25 383.25h1.45v1.45h-1.45z"/>
<path d="M443.74 272.8H451.74M447.74 272.8V275M443.74 275H451.74" stroke="#4A4A4A" stroke-width="1.3" fill="none"/>
<text transform="translate(447.74 262.3) scale(0.94 1)" font-family="'Liberation Sans', sans-serif" font-size="14.6" text-anchor="middle" stroke="#000" stroke-width="0.15">a</text>
<rect x="462.42" y="282.6" width="15.3" height="102.6" fill="#69D33E"/>
<path fill="#FFFFFF" d="M462.57 291.07h1.45v1.45h-1.45zM462.57 301.18h1.45v1.45h-1.45zM462.57 311.27h1.45v1.45h-1.45zM462.57 321.38h1.45v1.45h-1.45zM462.57 331.47h1.45v1.45h-1.45zM462.57 341.57h1.45v1.45h-1.45zM462.57 351.68h1.45v1.45h-1.45zM462.57 361.77h1.45v1.45h-1.45zM462.57 371.88h1.45v1.45h-1.45zM462.57 381.97h1.45v1.45h-1.45zM472.72 291.07h1.45v1.45h-1.45zM472.72 301.18h1.45v1.45h-1.45zM472.72 311.27h1.45v1.45h-1.45zM472.72 321.38h1.45v1.45h-1.45zM472.72 331.47h1.45v1.45h-1.45zM472.72 341.57h1.45v1.45h-1.45zM472.72 351.68h1.45v1.45h-1.45zM472.72 361.77h1.45v1.45h-1.45zM472.72 371.88h1.45v1.45h-1.45zM472.72 381.97h1.45v1.45h-1.45zM467.65 286.02h1.45v1.45h-1.45zM467.65 296.12h1.45v1.45h-1.45zM467.65 306.23h1.45v1.45h-1.45zM467.65 316.32h1.45v1.45h-1.45zM467.65 326.43h1.45v1.45h-1.45zM467.65 336.52h1.45v1.45h-1.45zM467.65 346.62h1.45v1.45h-1.45zM467.65 356.73h1.45v1.45h-1.45zM467.65 366.82h1.45v1.45h-1.45zM467.65 376.93h1.45v1.45h-1.45z"/>
<path d="M466.07 279H474.07M470.07 279V286.2M466.07 286.2H474.07" stroke="#4A4A4A" stroke-width="1.3" fill="none"/>
<text transform="translate(470.07 271.2) scale(0.94 1)" font-family="'Liberation Sans', sans-serif" font-size="14.6" text-anchor="middle" stroke="#000" stroke-width="0.15">b</text>
<rect x="484.75" y="288.7" width="15.3" height="96.5" fill="#8DC3E7"/>
<path d="M488.4 288H496.4M492.4 288V289.5M488.4 289.5H496.4" stroke="#4A4A4A" stroke-width="1.3" fill="none"/>
<text transform="translate(492.4 277.3) scale(0.94 1)" font-family="'Liberation Sans', sans-serif" font-size="14.6" text-anchor="middle" stroke="#000" stroke-width="0.15">bc</text>
<rect x="507.08" y="296.3" width="15.3" height="88.9" fill="#777272"/>
<path d="M510.73 291H518.73M514.73 291V301.2M510.73 301.2H518.73" stroke="#4A4A4A" stroke-width="1.3" fill="none"/>
<text transform="translate(514.73 285.1) scale(0.94 1)" font-family="'Liberation Sans', sans-serif" font-size="14.6" text-anchor="middle" stroke="#000" stroke-width="0.15">cd</text>
<text x="136.3" y="408.7" font-family="'Liberation Serif', serif" font-size="15" text-anchor="middle" >0</text>
<text x="250.75" y="408.7" font-family="'Liberation Serif', serif" font-size="15" text-anchor="middle" >20</text>
<text x="365.7" y="408.7" font-family="'Liberation Serif', serif" font-size="15" text-anchor="middle" >40</text>
<text x="481.3" y="408.7" font-family="'Liberation Serif', serif" font-size="15" text-anchor="middle" >60</text>
<text x="309" y="417.3" font-family="'Liberation Serif', serif" font-size="17" text-anchor="middle" >NaCl (mM)</text>
<text x="8.8" y="466" font-family="'Liberation Serif', serif" font-size="18.2" text-anchor="start" >C [1]</text>
<text x="51.6" y="484.1" font-family="'Liberation Serif', serif" font-size="15" text-anchor="end" >80</text>
<text x="51.6" y="518.5" font-family="'Liberation Serif', serif" font-size="15" text-anchor="end" >60</text>
<text x="51.6" y="553.1" font-family="'Liberation Serif', serif" font-size="15" text-anchor="end" >40</text>
<text x="51.6" y="587.7" font-family="'Liberation Serif', serif" font-size="15" text-anchor="end" >20</text>
<text x="51.6" y="621.5" font-family="'Liberation Serif', serif" font-size="15" text-anchor="end" >0</text>
<text transform="translate(26.4 542.3) rotate(-90)" font-family="'Liberation Serif', serif" font-size="15.2" text-anchor="middle">Electrolyte leakage (%)</text>
<path d="M64 616.5H243.6" stroke="#CBCBCB" stroke-width="1.3" fill="none"/>
<rect x="79.5" y="540.6" width="14.2" height="75.2" fill="#E8070E"/>
<path fill="#FFFFFF" d="M80.88 540.67h1.45v1.45h-1.45zM80.88 545.77h1.45v1.45h-1.45zM80.88 550.87h1.45v1.45h-1.45zM80.88 555.97h1.45v1.45h-1.45zM80.88 561.07h1.45v1.45h-1.45zM80.88 566.17h1.45v1.45h-1.45zM80.88 571.27h1.45v1.45h-1.45zM80.88 576.37h1.45v1.45h-1.45zM80.88 581.47h1.45v1.45h-1.45zM80.88 586.57h1.45v1.45h-1.45zM80.88 591.67h1.45v1.45h-1.45zM80.88 596.77h1.45v1.45h-1.45zM80.88 601.87h1.45v1.45h-1.45zM80.88 606.97h1.45v1.45h-1.45zM80.88 612.07h1.45v1.45h-1.45zM90.72 540.67h1.45v1.45h-1.45zM90.72 545.77h1.45v1.45h-1.45zM90.72 550.87h1.45v1.45h-1.45zM90.72 555.97h1.45v1.45h-1.45zM90.72 561.07h1.45v1.45h-1.45zM90.72 566.17h1.45v1.45h-1.45zM90.72 571.27h1.45v1.45h-1.45zM90.72 576.37h1.45v1.45h-1.45zM90.72 581.47h1.45v1.45h-1.45zM90.72 586.57h1.45v1.45h-1.45zM90.72 591.67h1.45v1.45h-1.45zM90.72 596.77h1.45v1.45h-1.45zM90.72 601.87h1.45v1.45h-1.45zM90.72 606.97h1.45v1.45h-1.45zM90.72 612.07h1.45v1.45h-1.45zM85.8 543.22h1.45v1.45h-1.45zM85.8 548.32h1.45v1.45h-1.45zM85.8 553.42h1.45v1.45h-1.45zM85.8 558.52h1.45v1.45h-1.45zM85.8 563.62h1.45v1.45h-1.45zM85.8 568.72h1.45v1.45h-1.45zM85.8 573.82h1.45v1.45h-1.45zM85.8 578.92h1.45v1.45h-1.45zM85.8 584.02h1.45v1.45h-1.45zM85.8 589.12h1.45v1.45h-1.45zM85.8 594.22h1.45v1.45h-1.45zM85.8 599.32h1.45v1.45h-1.45zM85.8 604.42h1.45v1.45h-1.45zM85.8 609.52h1.45v1.45h-1.45zM85.8 614.62h1.45v1.18h-1.45z"/>
<path d="M82.8 537.9H90.4M86.6 537.9V543.8M82.8 543.8H90.4" stroke="#4A4A4A" stroke-width="1.3" fill="none"/>
<text x="86.6" y="530.1" font-family="'Liberation Serif', serif" font-size="15" text-anchor="middle" >d</text>
<text x="86.6" y="640" font-family="'Liberation Serif', serif" font-size="15" text-anchor="middle" >0</text>
<rect x="124.4" y="531.7" width="14.2" height="84.1" fill="#69D33E"/>
<path fill="#FFFFFF" d="M126.48 533.17h1.45v1.45h-1.45zM126.48 538.27h1.45v1.45h-1.45zM126.48 543.38h1.45v1.45h-1.45zM126.48 548.48h1.45v1.45h-1.45zM126.48 553.57h1.45v1.45h-1.45zM126.48 558.67h1.45v1.45h-1.45zM126.48 563.77h1.45v1.45h-1.45zM126.48 568.88h1.45v1.45h-1.45zM126.48 573.98h1.45v1.45h-1.45zM126.48 579.07h1.45v1.45h-1.45zM126.48 584.17h1.45v1.45h-1.45zM126.48 589.27h1.45v1.45h-1.45zM126.48 594.38h1.45v1.45h-1.45zM126.48 599.48h1.45v1.45h-1.45zM126.48 604.57h1.45v1.45h-1.45zM126.48 609.67h1.45v1.45h-1.45zM126.48 614.77h1.45v1.02h-1.45zM136.68 533.17h1.45v1.45h-1.45zM136.68 538.27h1.45v1.45h-1.45zM136.68 543.38h1.45v1.45h-1.45zM136.68 548.48h1.45v1.45h-1.45zM136.68 553.57h1.45v1.45h-1.45zM136.68 558.67h1.45v1.45h-1.45zM136.68 563.77h1.45v1.45h-1.45zM136.68 568.88h1.45v1.45h-1.45zM136.68 573.98h1.45v1.45h-1.45zM136.68 579.07h1.45v1.45h-1.45zM136.68 584.17h1.45v1.45h-1.45zM136.68 589.27h1.45v1.45h-1.45zM136.68 594.38h1.45v1.45h-1.45zM136.68 599.48h1.45v1.45h-1.45zM136.68 604.57h1.45v1.45h-1.45zM136.68 609.67h1.45v1.45h-1.45zM136.68 614.77h1.45v1.02h-1.45zM131.58 531.7h1.45v0.37h-1.45zM131.58 535.72h1.45v1.45h-1.45zM131.58 540.82h1.45v1.45h-1.45zM131.58 545.92h1.45v1.45h-1.45zM131.58 551.02h1.45v1.45h-1.45zM131.58 556.12h1.45v1.45h-1.45zM131.58 561.22h1.45v1.45h-1.45zM131.58 566.32h1.45v1.45h-1.45zM131.58 571.42h1.45v1.45h-1.45zM131.58 576.52h1.45v1.45h-1.45zM131.58 581.62h1.45v1.45h-1.45zM131.58 586.72h1.45v1.45h-1.45zM131.58 591.82h1.45v1.45h-1.45zM131.58 596.92h1.45v1.45h-1.45zM131.58 602.02h1.45v1.45h-1.45zM131.58 607.12h1.45v1.45h-1.45zM131.58 612.22h1.45v1.45h-1.45z"/>
<path d="M127.7 530.3H135.3M131.5 530.3V533.3M127.7 533.3H135.3" stroke="#4A4A4A" stroke-width="1.3" fill="none"/>
<text x="131.5" y="520.4" font-family="'Liberation Serif', serif" font-size="15" text-anchor="middle" >c</text>
<text x="131.5" y="640" font-family="'Liberation Serif', serif" font-size="15" text-anchor="middle" >20</text>
<rect x="169.3" y="515.9" width="14.2" height="99.9" fill="#04B0F4"/>
<path d="M172.6 512.8H180.2M176.4 512.8V519M172.6 519H180.2" stroke="#4A4A4A" stroke-width="1.3" fill="none"/>
<text x="176.4" y="504.4" font-family="'Liberation Serif', serif" font-size="15" text-anchor="middle" >b</text>
<text x="176.4" y="640" font-family="'Liberation Serif', serif" font-size="15" text-anchor="middle" >40</text>
<rect x="214.1" y="497.8" width="14.2" height="118" fill="#021A63"/>
<path d="M217.4 493.4H225M221.2 493.4V502.1M217.4 502.1H225" stroke="#4A4A4A" stroke-width="1.3" fill="none"/>
<text x="221.2" y="486.7" font-family="'Liberation Serif', serif" font-size="15" text-anchor="middle" >a</text>
<text x="221.2" y="640" font-family="'Liberation Serif', serif" font-size="15" text-anchor="middle" >60</text>
<text x="154.5" y="661.2" font-family="'Liberation Serif', serif" font-size="15.2" text-anchor="middle" >NaCl (mM)</text>
<text x="267.8" y="466" font-family="'Liberation Serif', serif" font-size="18.2" text-anchor="start" >C [2]</text>
<text x="309.2" y="485" font-family="'Liberation Serif', serif" font-size="15" text-anchor="end" >80</text>
<text x="309.2" y="516" font-family="'Liberation Serif', serif" font-size="15" text-anchor="end" >60</text>
<text x="309.2" y="546.2" font-family="'Liberation Serif', serif" font-size="15" text-anchor="end" >40</text>
<text x="309.2" y="576.3" font-family="'Liberation Serif', serif" font-size="15" text-anchor="end" >20</text>
<text x="309.2" y="606.4" font-family="'Liberation Serif', serif" font-size="15" text-anchor="end" >0</text>
<text transform="translate(282.8 558.3) rotate(-90)" font-family="'Liberation Serif', serif" font-size="15.2" text-anchor="middle">Electrolyte leakage (%)</text>
<path d="M322.9 601.3H510.4" stroke="#CBCBCB" stroke-width="1.3" fill="none"/>
<rect x="338.1" y="512.4" width="15" height="88.3" fill="#E8070E"/>
<path fill="#FFFFFF" d="M344.67 515.27h1.45v1.45h-1.45zM344.67 520.38h1.45v1.45h-1.45zM344.67 525.47h1.45v1.45h-1.45zM344.67 530.57h1.45v1.45h-1.45zM344.67 535.67h1.45v1.45h-1.45zM344.67 540.77h1.45v1.45h-1.45zM344.67 545.88h1.45v1.45h-1.45zM344.67 550.97h1.45v1.45h-1.45zM344.67 556.07h1.45v1.45h-1.45zM344.67 561.17h1.45v1.45h-1.45zM344.67 566.27h1.45v1.45h-1.45zM344.67 571.38h1.45v1.45h-1.45zM344.67 576.47h1.45v1.45h-1.45zM344.67 581.57h1.45v1.45h-1.45zM344.67 586.67h1.45v1.45h-1.45zM344.67 591.77h1.45v1.45h-1.45zM344.67 596.88h1.45v1.45h-1.45zM339.72 512.72h1.45v1.45h-1.45zM339.72 517.82h1.45v1.45h-1.45zM339.72 522.92h1.45v1.45h-1.45zM339.72 528.02h1.45v1.45h-1.45zM339.72 533.12h1.45v1.45h-1.45zM339.72 538.22h1.45v1.45h-1.45zM339.72 543.32h1.45v1.45h-1.45zM339.72 548.42h1.45v1.45h-1.45zM339.72 553.52h1.45v1.45h-1.45zM339.72 558.62h1.45v1.45h-1.45zM339.72 563.72h1.45v1.45h-1.45zM339.72 568.82h1.45v1.45h-1.45zM339.72 573.92h1.45v1.45h-1.45zM339.72 579.02h1.45v1.45h-1.45zM339.72 584.12h1.45v1.45h-1.45zM339.72 589.22h1.45v1.45h-1.45zM339.72 594.32h1.45v1.45h-1.45zM339.72 599.42h1.45v1.28h-1.45zM349.62 512.72h1.45v1.45h-1.45zM349.62 517.82h1.45v1.45h-1.45zM349.62 522.92h1.45v1.45h-1.45zM349.62 528.02h1.45v1.45h-1.45zM349.62 533.12h1.45v1.45h-1.45zM349.62 538.22h1.45v1.45h-1.45zM349.62 543.32h1.45v1.45h-1.45zM349.62 548.42h1.45v1.45h-1.45zM349.62 553.52h1.45v1.45h-1.45zM349.62 558.62h1.45v1.45h-1.45zM349.62 563.72h1.45v1.45h-1.45zM349.62 568.82h1.45v1.45h-1.45zM349.62 573.92h1.45v1.45h-1.45zM349.62 579.02h1.45v1.45h-1.45zM349.62 584.12h1.45v1.45h-1.45zM349.62 589.22h1.45v1.45h-1.45zM349.62 594.32h1.45v1.45h-1.45zM349.62 599.42h1.45v1.28h-1.45z"/>
<path d="M341.8 506.5H349.4M345.6 506.5V518.6M341.8 518.6H349.4" stroke="#4A4A4A" stroke-width="1.3" fill="none"/>
<text x="345.6" y="501.6" font-family="'Liberation Serif', serif" font-size="15" text-anchor="middle" >a</text>
<text x="345.6" y="624.6" font-family="'Liberation Serif', serif" font-size="15" text-anchor="middle" >0</text>
<rect x="385.5" y="515" width="15" height="85.7" fill="#69D33E"/>
<path fill="#FFFFFF" d="M385.5 515.27h0.93v1.45h-0.93zM385.5 520.38h0.93v1.45h-0.93zM385.5 525.47h0.93v1.45h-0.93zM385.5 530.57h0.93v1.45h-0.93zM385.5 535.67h0.93v1.45h-0.93zM385.5 540.77h0.93v1.45h-0.93zM385.5 545.88h0.93v1.45h-0.93zM385.5 550.97h0.93v1.45h-0.93zM385.5 556.07h0.93v1.45h-0.93zM385.5 561.17h0.93v1.45h-0.93zM385.5 566.27h0.93v1.45h-0.93zM385.5 571.38h0.93v1.45h-0.93zM385.5 576.47h0.93v1.45h-0.93zM385.5 581.57h0.93v1.45h-0.93zM385.5 586.67h0.93v1.45h-0.93zM385.5 591.77h0.93v1.45h-0.93zM385.5 596.88h0.93v1.45h-0.93zM395.37 515.27h1.45v1.45h-1.45zM395.37 520.38h1.45v1.45h-1.45zM395.37 525.47h1.45v1.45h-1.45zM395.37 530.57h1.45v1.45h-1.45zM395.37 535.67h1.45v1.45h-1.45zM395.37 540.77h1.45v1.45h-1.45zM395.37 545.88h1.45v1.45h-1.45zM395.37 550.97h1.45v1.45h-1.45zM395.37 556.07h1.45v1.45h-1.45zM395.37 561.17h1.45v1.45h-1.45zM395.37 566.27h1.45v1.45h-1.45zM395.37 571.38h1.45v1.45h-1.45zM395.37 576.47h1.45v1.45h-1.45zM395.37 581.57h1.45v1.45h-1.45zM395.37 586.67h1.45v1.45h-1.45zM395.37 591.77h1.45v1.45h-1.45zM395.37 596.88h1.45v1.45h-1.45zM390.17 517.82h1.45v1.45h-1.45zM390.17 522.92h1.45v1.45h-1.45zM390.17 528.02h1.45v1.45h-1.45zM390.17 533.12h1.45v1.45h-1.45zM390.17 538.22h1.45v1.45h-1.45zM390.17 543.32h1.45v1.45h-1.45zM390.17 548.42h1.45v1.45h-1.45zM390.17 553.52h1.45v1.45h-1.45zM390.17 558.62h1.45v1.45h-1.45zM390.17 563.72h1.45v1.45h-1.45zM390.17 568.82h1.45v1.45h-1.45zM390.17 573.92h1.45v1.45h-1.45zM390.17 579.02h1.45v1.45h-1.45zM390.17 584.12h1.45v1.45h-1.45zM390.17 589.22h1.45v1.45h-1.45zM390.17 594.32h1.45v1.45h-1.45zM390.17 599.42h1.45v1.28h-1.45z"/>
<path d="M389.2 509.3H396.8M393 509.3V520.8M389.2 520.8H396.8" stroke="#4A4A4A" stroke-width="1.3" fill="none"/>
<text x="393" y="504.3" font-family="'Liberation Serif', serif" font-size="15" text-anchor="middle" >ab</text>
<text x="393" y="624.6" font-family="'Liberation Serif', serif" font-size="15" text-anchor="middle" >5</text>
<rect x="432.2" y="519" width="15" height="81.7" fill="#04B0F4"/>
<path d="M435.9 514.2H443.5M439.7 514.2V524.4M435.9 524.4H443.5" stroke="#4A4A4A" stroke-width="1.3" fill="none"/>
<text x="439.7" y="508.2" font-family="'Liberation Serif', serif" font-size="15" text-anchor="middle" >bc</text>
<text x="439.7" y="624.6" font-family="'Liberation Serif', serif" font-size="15" text-anchor="middle" >10</text>
<rect x="479.6" y="522.2" width="15" height="78.5" fill="#021A63"/>
<path d="M483.3 518.3H490.9M487.1 518.3V526.3M483.3 526.3H490.9" stroke="#4A4A4A" stroke-width="1.3" fill="none"/>
<text x="487.1" y="511.1" font-family="'Liberation Serif', serif" font-size="15" text-anchor="middle" >c</text>
<text x="487.1" y="624.6" font-family="'Liberation Serif', serif" font-size="15" text-anchor="middle" >15</text>
<text x="416.4" y="647" font-family="'Liberation Serif', serif" font-size="15.2" text-anchor="middle" >Fish waste bio-fertilizer (%)</text>
</svg>
</body></html>
